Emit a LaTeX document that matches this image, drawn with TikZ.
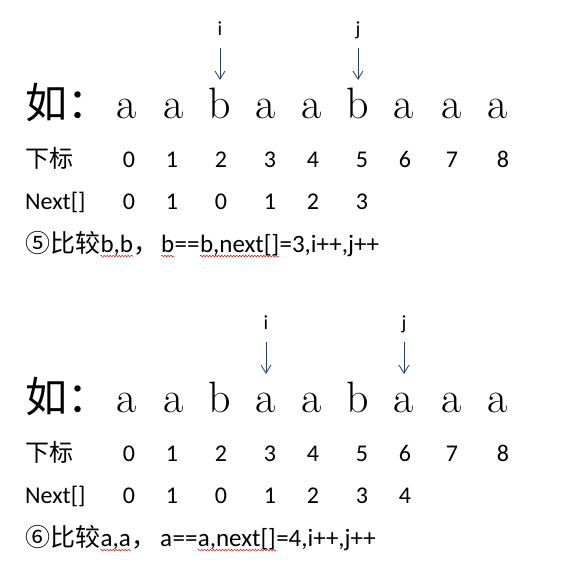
\documentclass[tikz,border=0pt]{standalone}
\usepackage{fontspec}
\newfontfamily\cjk{Noto Sans CJK SC}
\newfontfamily\calib{Carlito}
\usepackage{tikz}
\usetikzlibrary{positioning, arrows.meta, decorations.pathmorphing}
\definecolor{ptrblue}{RGB}{36,62,112}

\begin{document}
\begin{tikzpicture}[x=1pt, y=-1pt, node distance=0pt]
\tikzstyle{ltr}=[font=\fontsize{44}{44}\selectfont, inner sep=0pt, text height=30pt, text depth=0pt, anchor=base]
\tikzstyle{num}=[font=\calib\fontsize{24}{24}\selectfont, inner sep=0pt, anchor=base]
\tikzstyle{captxt}=[font=\calib\fontsize{25}{25}\selectfont, inner sep=0pt, anchor=base west]
\tikzstyle{ptrlbl}=[font=\calib\fontsize{20}{20}\selectfont, inner sep=0pt, text depth=0pt]
\tikzstyle{ptr}=[->, >={Straight Barb[length=8pt, width=10pt]}, ptrblue, line width=0.8pt, shorten <=12pt, shorten >=8pt]
\tikzstyle{typo}=[red, line width=0.5pt, decorate, decoration={snake, amplitude=0.8pt, segment length=3pt}]

\path[fill=white] (0,0) rectangle (563,582);

% step 5
\node[ltr, anchor=base west]   (ru1)  at (25,118)  {\cjk\fontsize{42}{42}\selectfont 如：};
\foreach \ch/\x [count=\k] in {a/127,a/174,b/220,a/266,a/312,b/358,a/404,a/452,a/498}
  \node[ltr]   (s1-\k) at (\x,118)  {\ch};
\node[num, anchor=base west]   (xb1)  at (25,167)  {\cjk 下标};
\foreach \d/\x in {0/129,1/172,2/221,3/270,4/313,5/362,6/405,7/452,8/503}
  \node[num]   (d1-\d) at (\x,167)  {\d};
\node[num, anchor=base west]   (nx1)  at (25,209)  {Next[]};
\foreach \v/\x [count=\k] in {0/129,1/172,0/221,1/270,2/313,3/362}
  \node[num]   (n1-\k) at (\x,209)  {\v};

\node[ptrlbl, above=52pt of s1-3]    (i1)   {i};
\node[ptrlbl, above=52pt of s1-6]    (j1)   {j};
\draw[ptr] (i1) -- (s1-3);
\draw[ptr] (j1) -- (s1-6);

\node[captxt]   (c1a)  at (25,252)          {\cjk ⑤比较};
\node[captxt]   (c1b)  at (c1a.base east)   {b,b};
\node[captxt]   (c1c)  at (c1b.base east)   {\cjk ，};
\node[captxt]   (c1d)  at (161,252)         {b};
\node[captxt]   (c1e)  at (c1d.base east)   {==};
\node[captxt]   (c1f)  at (c1e.base east)   {b,next[]};
\node[captxt]   (c1g)  at (c1f.base east)   {=3,i++,j++};
\draw[typo] ([yshift=-4pt]c1b.base west) -- ([yshift=-4pt]c1b.base east);
\draw[typo] ([yshift=-4pt]c1d.base west) -- ([yshift=-4pt]c1d.base east);
\draw[typo] ([yshift=-4pt]c1f.base west) -- ([yshift=-4pt]c1f.base east);

% step 6
\node[ltr, anchor=base west]   (ru2)  at (25,412)  {\cjk\fontsize{42}{42}\selectfont 如：};
\foreach \ch/\x [count=\k] in {a/127,a/174,b/220,a/266,a/312,b/358,a/404,a/452,a/498}
  \node[ltr]   (s2-\k) at (\x,412)  {\ch};
\node[num, anchor=base west]   (xb2)  at (25,461)  {\cjk 下标};
\foreach \d/\x in {0/129,1/172,2/221,3/270,4/313,5/362,6/405,7/452,8/503}
  \node[num]   (d2-\d) at (\x,461)  {\d};
\node[num, anchor=base west]   (nx2)  at (25,503)  {Next[]};
\foreach \v/\x [count=\k] in {0/129,1/172,0/221,1/270,2/313,3/362,4/405}
  \node[num]   (n2-\k) at (\x,503)  {\v};

\node[ptrlbl, above=52pt of s2-4]    (i2)   {i};
\node[ptrlbl, above=52pt of s2-7]    (j2)   {j};
\draw[ptr] (i2) -- (s2-4);
\draw[ptr] (j2) -- (s2-7);

\node[captxt]   (c2a)  at (25,546)          {\cjk ⑥比较};
\node[captxt]   (c2b)  at (c2a.base east)   {a,a};
\node[captxt]   (c2c)  at (c2b.base east)   {\cjk ，};
\node[captxt]   (c2d)  at (160,546)         {a};
\node[captxt]   (c2e)  at (c2d.base east)   {==};
\node[captxt]   (c2f)  at (c2e.base east)   {a,next[]};
\node[captxt]   (c2g)  at (c2f.base east)   {=4,i++,j++};
\draw[typo] ([yshift=-4pt]c2b.base west) -- ([yshift=-4pt]c2b.base east);
\draw[typo] ([yshift=-4pt]c2f.base west) -- ([yshift=-4pt]c2f.base east);

\end{tikzpicture}
\end{document}
